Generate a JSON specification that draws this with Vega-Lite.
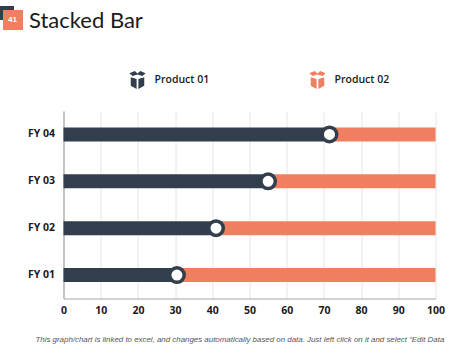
{
  "$schema": "https://vega.github.io/schema/vega-lite/v6.json",
  "autosize": "none",
  "padding": {"left": 63.5, "top": 111, "right": 38.5, "bottom": 56.5},
  "width": 372,
  "height": 187.5,
  "background": "white",
  "title": {"text": "Stacked Bar", "anchor": "start", "frame": "group", "dx": -34.5, "offset": -44, "baseline": "alphabetic", "font": "Lato", "fontSize": 22, "fontWeight": "normal", "color": "#1a1a1a"},
  "config": {"view": {"stroke": null}},
  "data": {"values": [
    {"fy": "FY 01", "product": "Product 01", "value": 30.5},
    {"fy": "FY 01", "product": "Product 02", "value": 69.5},
    {"fy": "FY 02", "product": "Product 01", "value": 41},
    {"fy": "FY 02", "product": "Product 02", "value": 59},
    {"fy": "FY 03", "product": "Product 01", "value": 55},
    {"fy": "FY 03", "product": "Product 02", "value": 45},
    {"fy": "FY 04", "product": "Product 01", "value": 71.5},
    {"fy": "FY 04", "product": "Product 02", "value": 28.5}
  ]},
  "encoding": {
    "x": {"field": "value", "type": "quantitative", "stack": "zero", "scale": {"domain": [0, 100]},
      "axis": {"values": [0,10,20,30,40,50,60,70,80,90,100], "labelOverlap": false, "labelBound": false, "labelFlush": false, "ticks": false, "grid": true, "gridColor": "#e6e6e6", "domainColor": "#a6a6a6", "domainWidth": 1.2, "labelPadding": 7, "labelFont": "Open Sans", "labelFontSize": 10.5, "labelFontWeight": 700, "labelColor": "#1a1a1a",
        "title": "This graph/chart is linked to excel, and changes automatically based on data. Just left click on it and select “Edit Data", "titleFont": "Liberation Sans", "titleFontStyle": "italic", "titleFontWeight": "normal", "titleFontSize": 7.9, "titleColor": "#555555", "titleAlign": "left", "titleAnchor": "start", "titleX": -28.5, "titleY": 36.5}},
    "y": {"field": "fy", "type": "nominal", "sort": "descending", "scale": {"paddingInner": 0.7, "paddingOuter": 0.35},
      "axis": {"title": null, "ticks": false, "grid": false, "domainColor": "#a6a6a6", "domainWidth": 1.2, "labelPadding": 9, "labelFont": "Open Sans", "labelFontSize": 10.5, "labelFontWeight": 700, "labelColor": "#1a1a1a"}}
  },
  "layer": [
    {
      "mark": {"type": "bar", "size": 14},
      "encoding": {
        "order": {"field": "product", "sort": "ascending"},
        "color": {"field": "product", "type": "nominal", "scale": {"domain": ["Product 01", "Product 02"], "range": ["#333e4d", "#f07f60"]},
          "legend": {"title": null, "orient": "none", "legendX": 65, "legendY": -40, "direction": "horizontal", "symbolType": "M-0.9 -0.75L-0.3 -1L0 -0.72L0.3 -1L0.9 -0.75L0.55 -0.45L0 -0.62L-0.55 -0.45ZM-0.75 -0.3L-0.1 -0.12L-0.1 1L-0.75 0.65ZM0.75 -0.3L0.1 -0.12L0.1 1L0.75 0.65Z", "symbolSize": 324, "symbolStrokeWidth": 0, "symbolOpacity": 1, "labelFont": "Open Sans", "labelFontSize": 10.5, "labelFontWeight": 600, "labelColor": "#1a1a1a", "labelOffset": 8, "columnPadding": 99}}
      }
    },
    {
      "transform": [{"filter": "datum.product === 'Product 01'"}],
      "mark": {"type": "point", "filled": false, "fill": "white", "fillOpacity": 1, "opacity": 1, "stroke": "#333e4d", "strokeWidth": 3.5, "shape": "circle", "size": 210}
    },
    {
      "transform": [{"filter": "datum.product === 'Product 01'"}],
      "mark": {"type": "point", "opacity": 0},
      "encoding": {
        "size": {"datum": " ", "type": "nominal", "scale": {"range": [0]}, "legend": {"title": null, "orient": "none", "legendX": -63.5, "legendY": -105, "fillColor": "#333e4d", "padding": 7, "labelFontSize": 1, "labelColor": "#333e4d", "symbolOpacity": 0}},
        "shape": {"datum": "41", "type": "nominal", "scale": {"range": ["circle"]}, "legend": {"title": null, "orient": "none", "legendX": -60.5, "legendY": -101, "fillColor": "#f07f60", "padding": 6, "symbolSize": 0, "symbolOpacity": 0, "labelFont": "Liberation Sans", "labelFontSize": 8, "labelFontWeight": "bold", "labelColor": "#ffffff", "labelOffset": -9}}
      }
    }
  ]
}
